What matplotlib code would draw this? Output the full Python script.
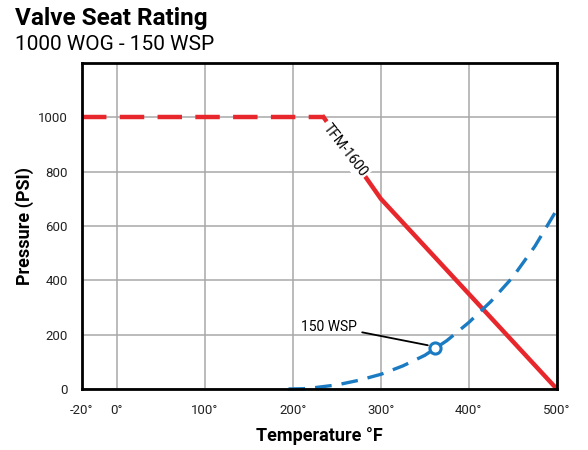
import numpy as np
import matplotlib.pyplot as plt

plt.rcParams['font.family'] = ['Roboto', 'DejaVu Sans']

# TFM-1600 seat rating
red_temp = [-20, 235, 300, 500]
red_psi = [1000, 1000, 700, 0]

# saturated steam (150 WSP curve)
steam_temp = [195, 212, 225, 250, 275, 300, 325, 350, 375, 400, 425, 450, 475, 500]
steam_psi = [0, 1, 5, 15, 32, 54, 85, 124, 178, 245, 322, 412, 525, 660]
wsp_temp, wsp_psi = 362, 152

xticks = [-20, 0, 100, 200, 300, 400, 500]
xlabels = ['-20°', '0°', '100°', '200°', '300°', '400°', '500°']
yticks = [0, 200, 400, 600, 800, 1000]

red = '#e8272c'
blue = '#1b7bc2'


def fwd(x):
    x = np.asarray(x, dtype=float)
    return np.where(x < 0, 2 * x, x)


def inv(x):
    x = np.asarray(x, dtype=float)
    return np.where(x < 0, x / 2, x)


fig = plt.figure(figsize=(5.88, 4.5), dpi=100)
ax = fig.add_axes([0.139, 0.1356, 0.808, 0.7244])
ax.set_xscale('function', functions=(fwd, inv))
ax.set_xlim(-20, 500)
ax.set_ylim(0, 1200)

ax.set_xticks(xticks)
ax.set_xticklabels(xlabels)
ax.set_yticks(yticks)
ax.tick_params(length=0, labelsize=9.5, labelcolor='#222222')
ax.tick_params(axis='x', pad=11)
ax.tick_params(axis='y', pad=10)
ax.grid(True, color='#a8a8a8', linewidth=1.1)
ax.set_axisbelow(True)
for s in ax.spines.values():
    s.set_linewidth(2)

ax.plot(red_temp[:2], red_psi[:2], color=red, lw=3.2, dashes=(5.5, 3), solid_capstyle='butt')
ax.plot(red_temp[1:], red_psi[1:], color=red, lw=3.2)
ax.text(259, 880, 'TFM-1600', rotation=-52, ha='center', va='center', fontsize=10,
        bbox=dict(facecolor='white', edgecolor='none', pad=1.5), zorder=5)

ax.plot(steam_temp, steam_psi, color=blue, lw=2.4, dashes=(5, 3), clip_on=False)
ax.plot([wsp_temp], [wsp_psi], 'o', ms=8, mfc='white', mec=blue, mew=2.2, zorder=6)
ax.annotate('150 WSP', xy=(wsp_temp - 4, wsp_psi + 6), xytext=(209, 228),
            fontsize=10, ha='left', va='center',
            arrowprops=dict(arrowstyle='-', color='black', lw=1.3,
                            shrinkA=2, shrinkB=3, relpos=(1, 0.2)))

ax.set_xlabel('Temperature °F', fontsize=13, fontweight='bold', labelpad=7)
ax.set_ylabel('Pressure (PSI)', fontsize=13, fontweight='bold', labelpad=3)

fig.text(0.026, 0.958, 'Valve Seat Rating', fontsize=17.5, fontweight='bold', va='center')
fig.text(0.026, 0.9, '1000 WOG - 150 WSP', fontsize=15, va='center')

fig.savefig('out.png', dpi=100)
